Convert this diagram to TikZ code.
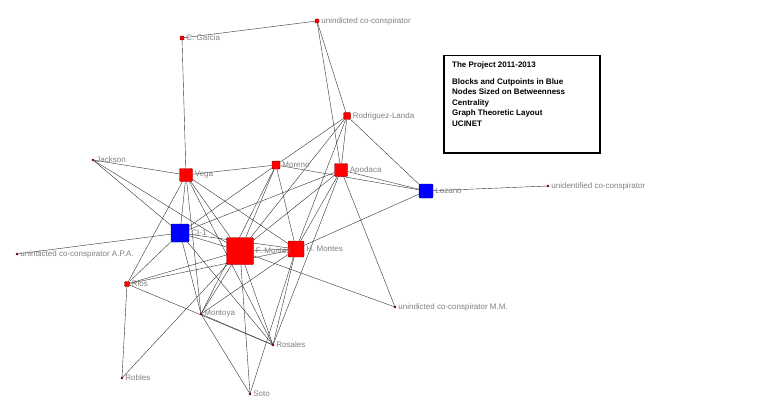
\documentclass[tikz,border=0pt]{standalone}
\usepackage{fontspec}
\setmainfont{Liberation Sans}
\usetikzlibrary{positioning}
\pgfdeclarelayer{edges}
\pgfsetlayers{edges,main}
\tikzset{
    actor/.style={draw=red!50!black, fill=red, rounded corners=1pt, minimum size=#1, inner sep=0pt},
    cut/.style={draw=blue!50!black, fill=blue, rounded corners=1pt, minimum size=#1, inner sep=0pt},
    lbl/.style={text=gray, font=\fontsize{8}{9}\selectfont, inner sep=1pt, right=1pt of #1},
    tie/.style={draw=black!80, line width=0.4pt}
}
\begin{document}
\begin{tikzpicture}[x=1pt, y=-1pt]
    \useasboundingbox (0,0) rectangle (768,409);
    \node[actor=4pt](garcia) at (182,38){};
    \node[actor=4pt](ucc) at (317,21){};
    \node[actor=7pt](rodlanda) at (347,116){};
    \node[actor=13pt](vega) at (186,175){};
    \node[actor=8pt](moreno) at (276,165){};
    \node[actor=13pt](apodaca) at (341,170){};
    \node[cut=14pt](lozano) at (426,191){};
    \node[actor=2pt, fill=black](uic) at (548,186){};
    \node[actor=2pt, fill=black](jackson) at (93,160){};
    \node[cut=18pt](ci) at (180,233){};
    \node[actor=27pt](fmontes) at (240,251){};
    \node[actor=16pt](hmontes) at (296,249){};
    \node[actor=2pt, fill=black](apa) at (17,254){};
    \node[actor=5pt](rios) at (127,284){};
    \node[actor=2pt, fill=black](montoya) at (201,314){};
    \node[actor=2pt, fill=black](mm) at (395,307){};
    \node[actor=2pt, fill=black](rosales) at (273,345){};
    \node[actor=2pt, fill=black](robles) at (122,378){};
    \node[actor=2pt, fill=black](soto) at (250,394){};

    \begin{pgfonlayer}{edges}
    \foreach \a/\b in {garcia/ucc, garcia/vega, ucc/rodlanda, ucc/apodaca,
        rodlanda/moreno, rodlanda/apodaca, rodlanda/lozano, rodlanda/fmontes, rodlanda/hmontes,
        vega/moreno, vega/jackson, vega/ci, vega/fmontes, vega/hmontes, vega/montoya,
        vega/rios, vega/rosales, jackson/ci, jackson/fmontes,
        moreno/fmontes, moreno/ci, moreno/hmontes, moreno/lozano, moreno/montoya,
        apodaca/lozano, apodaca/fmontes, apodaca/hmontes, apodaca/mm, apodaca/ci, apodaca/rosales,
        lozano/hmontes, lozano/uic,
        ci/apa, ci/fmontes, ci/montoya, ci/rosales, ci/rios, ci/hmontes,
        fmontes/hmontes, fmontes/rios, fmontes/montoya, fmontes/rosales, fmontes/soto,
        fmontes/mm, fmontes/robles,
        hmontes/rios, hmontes/montoya, hmontes/rosales, hmontes/soto,
        rios/robles, rios/rosales, montoya/rosales, montoya/soto}
        \draw[tie] (\a) -- (\b);
    \end{pgfonlayer}

    % labels
    \node[lbl=garcia]{C. Garcia};
    \node[lbl=ucc]{unindicted co-conspirator};
    \node[lbl=rodlanda]{Rodriguez-Landa};
    \node[lbl=vega]{Vega};
    \node[lbl=moreno]{Moreno};
    \node[lbl=apodaca]{Apodaca};
    \node[lbl=lozano]{Lozano};
    \node[lbl=uic]{unidentified co-conspirator};
    \node[lbl=jackson]{Jackson};
    \node[lbl=ci]{CI-1};
    \node[lbl=fmontes]{F. Montes};
    \node[lbl=hmontes]{H. Montes};
    \node[lbl=apa]{unindicted co-conspirator A.P.A.};
    \node[lbl=rios]{Rios};
    \node[lbl=montoya]{Montoya};
    \node[lbl=mm]{unindicted co-conspirator M.M.};
    \node[lbl=rosales]{Rosales};
    \node[lbl=robles]{Robles};
    \node[lbl=soto]{Soto};

    \node[draw, line width=1.5pt, minimum width=156pt, minimum height=97pt, anchor=north west,
        inner sep=0pt](legend) at (443,55){};
    \node[anchor=north west, align=left, font=\bfseries\fontsize{8}{10.5}\selectfont, inner sep=0pt]
        (legendtext) at (452,62){The Project 2011-2013\\[6pt]Blocks and Cutpoints in Blue\\Nodes Sized on Betweenness\\Centrality\\Graph Theoretic Layout\\UCINET};
\end{tikzpicture}
\end{document}
